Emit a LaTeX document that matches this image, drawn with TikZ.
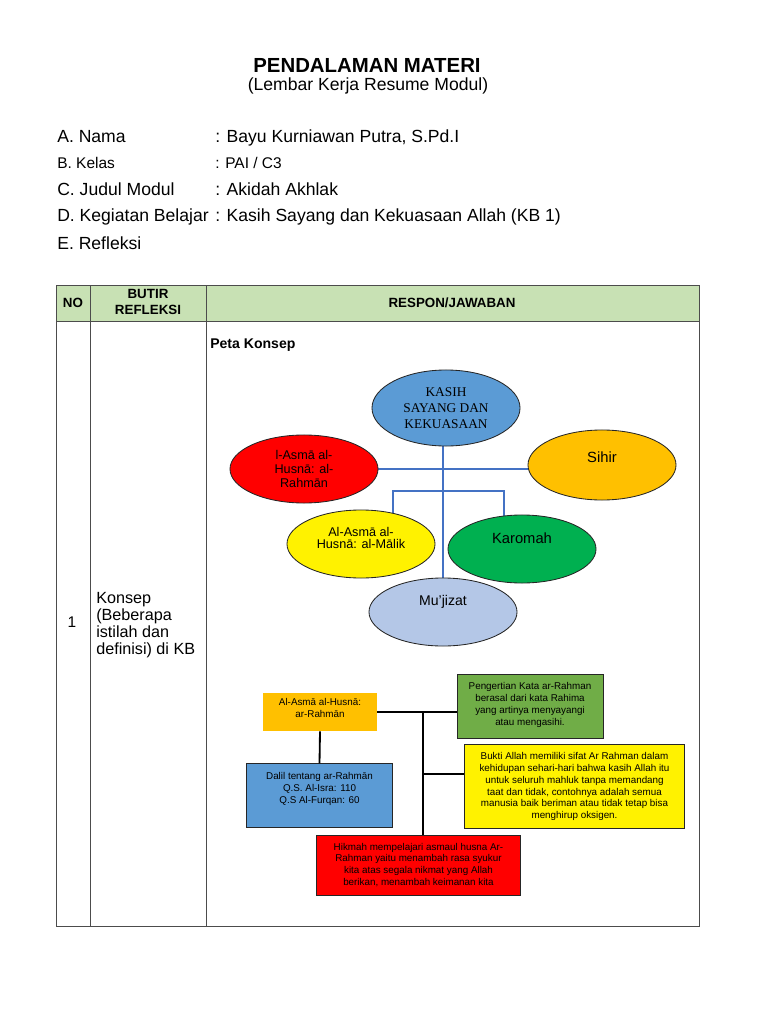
\documentclass[tikz,border=0pt]{standalone}
\usepackage{fontspec}
\setmainfont{Liberation Sans}
\newfontfamily\kbserif{Liberation Serif}
\usetikzlibrary{positioning, shapes.geometric, backgrounds}

\definecolor{headgreen}{RGB}{200,225,180}
\definecolor{kbblue}{RGB}{91,155,213}
\definecolor{kbpale}{RGB}{180,199,231}
\definecolor{kborange}{RGB}{255,192,0}
\definecolor{kbgreen}{RGB}{0,176,80}
\definecolor{kbleaf}{RGB}{112,173,71}
\definecolor{lineblue}{RGB}{68,114,196}

\begin{document}
\begin{tikzpicture}[
  x=0.025cm, y=-0.025cm,
  rule/.style={draw=black!70, line width=0.7pt},
  info/.style={anchor=base west, inner sep=0pt, font=\fontsize{12.5}{14}\selectfont},
  head/.style={inner sep=0pt, align=center, font=\bfseries\fontsize{9.5}{11.5}\selectfont},
  blob/.style={ellipse, draw=black!85, line width=0.6pt, inner sep=0pt,
    minimum width=3.7cm, minimum height=1.7cm, align=center,
    font=\fontsize{9}{8.4}\selectfont},
  card/.style={rectangle, draw=black!85, line width=0.6pt, inner sep=0pt,
    align=center, font=\fontsize{7}{8.5}\selectfont},
  mapline/.style={draw=lineblue, line width=1.1pt},
  treeline/.style={draw=black, line width=1.3pt}
]
\useasboundingbox (0,0) rectangle (768,1024);

% --- Heading ---
\node[font=\bfseries\fontsize{14.5}{16}\selectfont] (title) at (367,65) {PENDALAMAN MATERI};
\node[font=\fontsize{12.5}{14}\selectfont] (subtitle) at (368,86) {(Lembar Kerja Resume Modul)};

% --- Identity lines ---
\node[info] (nama) at (57,143) {A. Nama};
\node[info] (namav) at (215,143) {: Bayu Kurniawan Putra, S.Pd.I};
\node[info, font=\fontsize{11}{13}\selectfont] (kelas) at (57,169) {B. Kelas};
\node[info, font=\fontsize{11}{13}\selectfont] (kelasv) at (215,169) {: PAI / C3};
\node[info] (judul) at (57,196) {C. Judul Modul};
\node[info] (judulv) at (215,196) {: Akidah Akhlak};
\node[info] (kb) at (57,222) {D. Kegiatan Belajar};
\node[info] (kbv) at (215,222) {: Kasih Sayang dan Kekuasaan Allah (KB 1)};
\node[info] (refl) at (57,249) {E. Refleksi};

% --- Table ---
\draw[rule, fill=headgreen] (56,285) rectangle (699,321);
\draw[rule] (56,285) rectangle (699,926);
\draw[rule] (90,285) -- (90,926);
\draw[rule] (206,285) -- (206,926);

\node[head] (no) at (73,303) {NO};
\node[head] (butir) at (148,302) {BUTIR\\REFLEKSI};
\node[head] (respon) at (452,303) {RESPON/JAWABAN};

\node[font=\fontsize{11}{12}\selectfont] (one) at (72,622) {1};
\node[anchor=north west, inner sep=0pt, align=left, font=\fontsize{11.5}{12.2}\selectfont]
  (konsep) at (96,592) {Konsep\\(Beberapa\\istilah dan\\definisi) di KB};

\node[anchor=west, inner sep=0pt, font=\bfseries\fontsize{10}{12}\selectfont] (peta) at (210,345) {Peta Konsep};

% --- Concept map: ellipses ---
\node[blob, fill=kbblue, minimum height=1.9cm, font=\kbserif\fontsize{9.5}{11.5}\selectfont]
  (kasih) at (446,408) {KASIH\\SAYANG DAN\\KEKUASAAN};
\node[blob, fill=red, font=\fontsize{9}{10}\selectfont] (rahman) at (304,469) {l-Asmā al-\\Husnā: al-\\Rahmān};
\node[blob, fill=kborange, minimum height=1.75cm, text depth=11pt, font=\fontsize{10.5}{12}\selectfont]
  (sihir) at (602,465) {Sihir};
\node[blob, fill=yellow, text depth=9pt] (malik) at (361,544) {Al-Asmā al-\\Husnā: al-Mālik};
\node[blob, fill=kbgreen, text depth=15pt, font=\fontsize{10.5}{12}\selectfont]
  (karomah) at (522,549) {Karomah};
\node[blob, fill=kbpale, text depth=16pt, font=\fontsize{10}{12}\selectfont]
  (mujizat) at (443,612) {Mu'jizat};

% --- Concept map: links (behind the ellipses) ---
\coordinate (forkl) at (393,491);
\coordinate (forkr) at (504,491);
\begin{scope}[on background layer]
\draw[mapline] (mujizat.north |- kasih.south) -- (mujizat.north);
\draw[mapline] (rahman.east) -- (rahman.east -| sihir.west);
\draw[mapline] (forkl |- malik.center) -- (forkl) -- (forkr) -- (forkr |- karomah.center);
\end{scope}

% --- Ar-Rahman tree: boxes ---
\node[card, fill=kborange, draw=none, minimum width=2.85cm, minimum height=0.95cm]
  (asma) at (320,712) {Al-Asmā al-Husnā:\\ar-Rahmān\\[-3pt]};
\node[card, fill=kbleaf, minimum width=3.65cm, minimum height=1.6cm]
  (arti) at (530,706) {Pengertian Kata ar-Rahman\\berasal dari kata Rahima\\yang artinya menyayangi\\atau mengasihi.\\[-5pt]};
\node[card, fill=yellow, minimum width=5.48cm, minimum height=2.08cm]
  (bukti) at (574.5,786.5) {Bukti Allah memiliki sifat Ar Rahman dalam\\kehidupan sehari-hari bahwa kasih Allah itu\\untuk seluruh mahluk tanpa memandang\\taat dan tidak, contohnya adalah semua\\manusia baik beriman atau tidak tetap bisa\\menghirup oksigen.};
\node[card, fill=kbblue, minimum width=3.63cm, minimum height=1.58cm]
  (dalil) at (319.5,795.5) {Dalil tentang ar-Rahmān\\Q.S. Al-Isra: 110\\Q.S Al-Furqan: 60\\[2pt]};
\node[card, fill=red, minimum width=5.08cm, minimum height=1.5cm]
  (hikmah) at (418.5,865) {Hikmah mempelajari asmaul husna Ar-\\Rahman yaitu menambah rasa syukur\\kita atas segala nikmat yang Allah\\berikan, menambah keimanan kita};

% --- Ar-Rahman tree: links ---
\coordinate (trunk) at (423,712);
\coordinate (twig) at (423,774);
\draw[treeline] (asma.east) -- (arti.west |- asma.east);
\draw[treeline] (trunk) -- (trunk |- hikmah.north);
\draw[treeline] (twig) -- (bukti.west |- twig);
\draw[treeline] (asma.south) -- (dalil.north);

\end{tikzpicture}
\end{document}
